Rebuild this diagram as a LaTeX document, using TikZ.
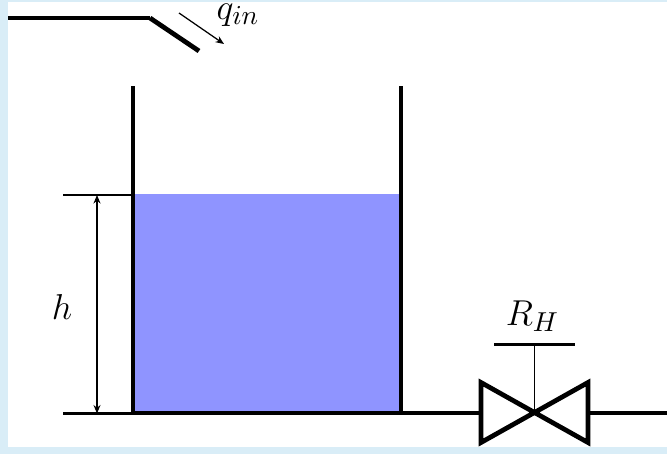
\documentclass[tikz,border=0pt]{standalone}
\usepackage{amsmath}
\usepackage{tikz}
\usetikzlibrary{arrows.meta}
\definecolor{pagecol}{HTML}{D9EDF7}
\definecolor{watercol}{HTML}{8F94FF}
\tikzset{
  pipe/.style={line width=1.6pt},
  valveline/.style={line width=1.9pt},
  thinline/.style={line width=0.85pt},
  flowarrow/.style={line width=0.5pt, -{Stealth[length=3.4pt,width=2.8pt]}},
  dimarrow/.style={line width=0.5pt, {Stealth[length=3.4pt,width=2.8pt]}-{Stealth[length=3.4pt,width=2.8pt]}},
  label/.style={font=\fontsize{15.2}{18}\selectfont, inner sep=0pt}
}
\begin{document}
\begin{tikzpicture}[x=0.4pt,y=-0.4pt]
\useasboundingbox (0,0) rectangle (667,454);
\fill[pagecol] (0,0) rectangle (667,454);
\fill[white] (8,2) rectangle (667,447);
% water
\fill[watercol] (133,194) rectangle (401,413);
% inflow
\draw[pipe, line join=miter] (8,18)--(150,18);
\draw[valveline] (150,18)--(199,51);
\coordinate (qstart) at (179,13);
\coordinate (qend) at (224,44);
\draw[flowarrow] (qstart)--(qend);
\node[label] (qin) at (238,15) {$q_{in}$};
% tank
\coordinate (tankTL) at (133,86);
\coordinate (tankBL) at (133,413);
\coordinate (tankBR) at (401,413);
\coordinate (tankTR) at (401,86);
\draw[pipe, line join=miter] (tankTL)--(tankBL)--(tankBR)--(tankTR);
% level
\coordinate (levelA) at (63,195);
\coordinate (levelB) at (133,195);
\coordinate (baseA) at (63,413.5);
\coordinate (baseB) at (133,413.5);
\coordinate (dimA) at (97,195);
\coordinate (dimB) at (97,413.5);
\draw[thinline] (levelA)--(levelB);
\draw[thinline] (baseA)--(baseB);
\draw[dimarrow] (dimA)--(dimB);
\node[label] (hlabel) at (62,307) {$h$};
% outlet and valve
\coordinate (valveC) at (534.5,412.5);
\coordinate (valveL) at (481,412.5);
\coordinate (valveR) at (588,412.5);
\coordinate (pipeEnd) at (667,412.5);
\coordinate (stemTop) at (534.5,344.5);
\draw[pipe] (tankBR|-valveC)--(valveL);
\draw[pipe] (valveR)--(pipeEnd);
\draw[valveline, line join=miter] (481,382.5)--(481,442.5)--(588,382.5)--(588,442.5)--cycle;
\draw[line width=0.65pt] (valveC)--(stemTop);
\draw[thinline] (494,344.5)--(575,344.5);
\node[label] (rh) at (532.5,316) {$R_H$};
\end{tikzpicture}
\end{document}
